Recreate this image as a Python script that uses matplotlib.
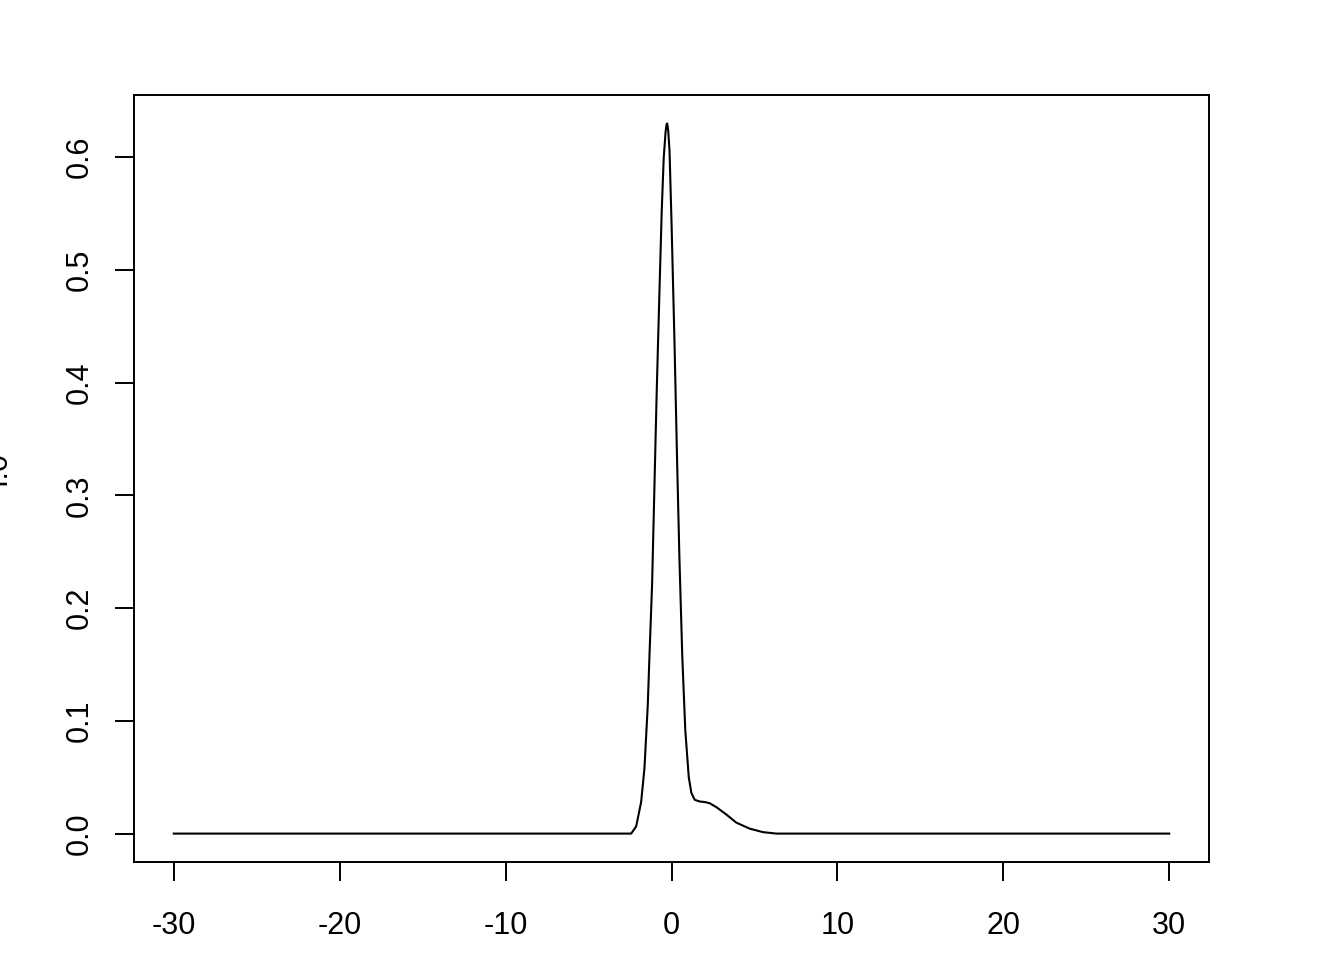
import numpy as np
import matplotlib
matplotlib.use("Agg")
import matplotlib.pyplot as plt

# density curve
x_vals = [-30, -2.43, -2.13, -1.83, -1.63, -1.43, -1.33, -1.17, -1.03, -0.89,
          -0.73, -0.59, -0.47, -0.36, -0.30, -0.26, -0.20, -0.12, 0.0, 0.18,
          0.34, 0.48, 0.65, 0.83, 1.04, 1.20, 1.40, 1.69, 2.00, 2.29, 2.70,
          3.30, 3.90, 4.71, 5.51, 6.32, 30]
f_vals = [0.0, 0.0, 0.0064, 0.028, 0.058, 0.114, 0.157, 0.221, 0.307, 0.393,
          0.479, 0.552, 0.599, 0.622, 0.629, 0.630, 0.624, 0.606, 0.543, 0.436,
          0.329, 0.243, 0.157, 0.092, 0.050, 0.036, 0.030, 0.0285, 0.028,
          0.027, 0.0235, 0.017, 0.0098, 0.0044, 0.0013, 0.0, 0.0]
x_ticks = [-30, -20, -10, 0, 10, 20, 30]
y_ticks = [0.0, 0.1, 0.2, 0.3, 0.4, 0.5, 0.6]

plt.rcParams['font.family'] = ['Liberation Sans', 'DejaVu Sans']

fig = plt.figure(figsize=(13.44, 9.6), dpi=100)
ax = fig.add_axes([134 / 1344, 98 / 960, 1075 / 1344, 767 / 960])
ax.plot(x_vals, f_vals, color="black", lw=1.5)

ax.set_xlim(-32.4, 32.4)
ax.set_ylim(-0.0252, 0.6552)
ax.set_xticks(x_ticks)
ax.set_xticklabels([str(t) for t in x_ticks])
ax.set_yticks(y_ticks)
ax.set_yticklabels(["%.1f" % t for t in y_ticks], rotation=90, va="center")
ax.tick_params(length=14, width=1.4, labelsize=22)
ax.tick_params(axis="x", pad=21)
ax.tick_params(axis="y", pad=14)
for s in ax.spines.values():
    s.set_linewidth(1.4)

fig.text(0.0, 0.51, "f.0", rotation=90, fontsize=22, ha="center", va="center")

fig.savefig("out.png", dpi=100)
